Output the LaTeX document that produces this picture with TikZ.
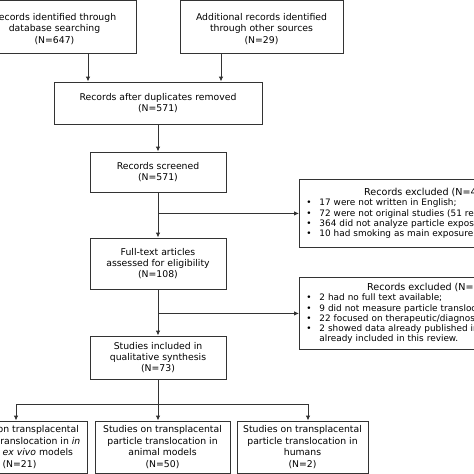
\documentclass[tikz,border=0pt]{standalone}
\usepackage{fontspec}
\setmainfont{DejaVu Sans}
\usetikzlibrary{arrows.meta}
\newcommand{\boxFont}[0]{\fontsize{9.3}{11.4}\selectfont}
\newcommand{\listFont}[0]{\fontsize{8.9}{10.2}\selectfont}
\newcommand{\bul}[0]{\makebox[13pt][l]{\textbullet}}
\newcommand{\topStrut}[0]{\rule{0pt}{11pt}}
\newcommand{\exclTitle}[1]{\noindent\makebox[\hsize]{\fontsize{9.6}{10.2}\selectfont #1}\par}
\definecolor{boxline}{HTML}{333333}

\begin{document}
\begin{tikzpicture}[x=1pt, y=-1pt]
  \tikzset{stage/.style={draw=boxline, line width=0.9pt, align=center, font=\boxFont, inner sep=0pt},
           excluded/.style={draw=boxline, line width=0.9pt, align=left, font=\listFont, anchor=north west,
                            inner xsep=7pt, inner ysep=5pt, text width=244pt, minimum height=68pt},
           flow/.style={draw=boxline, line width=0.9pt, -{Latex[length=5pt,width=4.5pt]}}}
  \useasboundingbox (0,0) rectangle (474,474);
  \clip (0,0) rectangle (474,474);
  % identification
  \node[stage, minimum width=163pt, minimum height=53pt] (db) at (54.5,27) {\topStrut Records identified through\\database searching\\(N=647)};
  \node[stage, minimum width=163pt, minimum height=53pt] (other) at (261.5,27) {\topStrut Additional records identified\\through other sources\\(N=29)};
  \node[stage, minimum width=208pt, minimum height=42pt] (dup) at (158,103) {Records after duplicates removed\\(N=571)};
  % screening
  \node[stage, minimum width=136pt, minimum height=40pt] (screen) at (158,172) {Records screened\\(N=571)};
  \node[excluded] (excl1) at (299,179) {\exclTitle{Records excluded (N=463)}
    \bul 17 were not written in English;\\
    \bul 72 were not original studies (51 reviews);\\
    \bul 364 did not analyze particle exposure;\\
    \bul 10 had smoking as main exposure source.};
  % eligibility
  \node[stage, minimum width=136pt, minimum height=51pt] (full) at (158,263.5) {Full-text articles\\assessed for eligibility\\(N=108)};
  \node[excluded, minimum height=72pt] (excl2) at (299,277) {\exclTitle{Records excluded (N=35)}
    \bul 2 had no full text available;\\
    \bul 9 did not measure particle translocation;\\
    \bul 22 focused on therapeutic/diagnostic use;\\
    \bul 2 showed data already published in studies\\
    \hspace*{13pt}already included in this review.};
  % included
  \node[stage, minimum width=136pt, minimum height=43pt] (incl) at (158,357.5) {Studies included in\\qualitative synthesis\\(N=73)};
  \node[stage, minimum width=135pt, minimum height=52pt] (vitro) at (19.5,447) {Studies on transplacental\\particle translocation in \textit{in}\\\textit{vitro} or \textit{ex vivo} models\\(N=21)};
  \node[stage, minimum width=135pt, minimum height=52pt] (animal) at (162.5,447) {Studies on transplacental\\particle translocation in\\animal models\\(N=50)};
  \node[stage, minimum width=131pt, minimum height=52pt] (human) at (302.5,447) {Studies on transplacental\\particle translocation in\\humans\\(N=2)};

  \coordinate (dbOut) at ([xshift=33.5pt]db.south);
  \coordinate (otherOut) at ([xshift=-40.5pt]other.south);
  \coordinate (split) at ([yshift=-25pt]incl.south);
  \coordinate (vitroIn) at ([xshift=-3.5pt]vitro.north);
  \coordinate (humanIn) at ([xshift=5.5pt]human.north);
  \draw[flow] (dbOut) -- (dbOut |- dup.north);
  \draw[flow] (otherOut) -- (otherOut |- dup.north);
  \draw[flow] (dup.south) -- (screen.north);
  \draw[flow] (screen.south) -- (full.north);
  \draw[flow] (excl1.west -| screen.south) -- (excl1.west);
  \draw[flow] (full.south) -- (incl.north);
  \draw[flow] (excl2.west -| full.south) -- (excl2.west);
  \draw[flow] (incl.south) -- (incl.south |- animal.north);
  \draw[flow] (split) -| (vitroIn);
  \draw[flow] (split) -| (humanIn);
\end{tikzpicture}
\end{document}
